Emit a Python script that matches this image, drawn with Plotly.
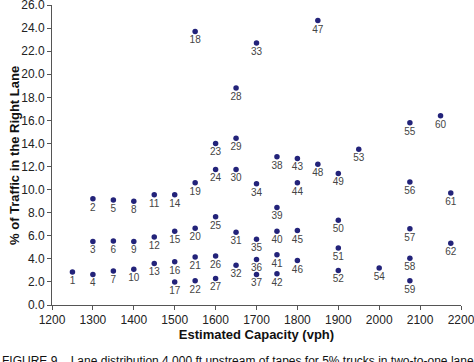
import plotly.graph_objects as go

ids = list(range(1, 63))
capacity = [1250, 1300, 1300, 1300, 1350, 1350, 1350, 1400, 1400, 1400,
            1450, 1450, 1450, 1500, 1500, 1500, 1500, 1550, 1550, 1550,
            1550, 1550, 1600, 1600, 1600, 1600, 1600, 1650, 1650, 1650,
            1650, 1650, 1700, 1700, 1700, 1700, 1700, 1750, 1750, 1750,
            1750, 1750, 1800, 1800, 1800, 1800, 1850, 1850, 1900, 1900,
            1900, 1900, 1950, 2000, 2075, 2075, 2075, 2075, 2075, 2150,
            2175, 2175]
pct_right = [2.85, 9.2, 5.5, 2.65, 9.1, 5.55, 2.95, 9.0, 5.5, 3.1,
             9.55, 5.9, 3.6, 9.55, 6.4, 3.75, 2.0, 23.7, 10.6, 6.65,
             4.15, 2.1, 14.0, 11.75, 7.65, 4.25, 2.3, 18.8, 14.45, 11.75,
             6.3, 3.45, 22.7, 10.5, 5.7, 3.95, 2.65, 12.85, 8.45, 6.4,
             4.35, 2.7, 12.7, 10.6, 6.45, 3.85, 24.65, 12.2, 11.4, 7.35,
             4.95, 3.0, 13.5, 3.2, 15.8, 10.65, 6.6, 4.05, 2.1, 16.4,
             9.7, 5.35]

x_ticks = list(range(1200, 2201, 100))
y_ticks = [0, 2, 4, 6, 8, 10, 12, 14, 16, 18, 20, 22, 24, 26]

fig = go.Figure()
fig.add_trace(go.Scatter(
    x=capacity, y=pct_right, mode="markers+text",
    text=[str(i) for i in ids], textposition="bottom center",
    textfont=dict(family="Liberation Sans, Arial, sans-serif", size=10, color="#444444"),
    marker=dict(size=5.5, color="#23237a"),
    cliponaxis=False, showlegend=False, hoverinfo="skip",
))

axis_common = dict(
    showgrid=False, zeroline=False, showline=True, linecolor="#555555", linewidth=1,
    ticks="outside", ticklen=4, tickcolor="#555555", automargin=False,
    ticklabeloverflow="allow",
    tickfont=dict(family="Liberation Sans, Arial, sans-serif", size=12, color="#222222"),
)

fig.update_layout(
    width=474, height=362,
    margin=dict(l=52, r=13, t=5, b=57),
    paper_bgcolor="white", plot_bgcolor="white",
    font=dict(family="Liberation Sans, Arial, sans-serif"),
    xaxis=dict(range=[1200, 2200], tickvals=x_ticks,
               title=dict(text="<b>Estimated Capacity (vph)</b>", standoff=2,
                          font=dict(size=13, color="#111111")),
               **axis_common),
    yaxis=dict(range=[0, 26], tickvals=y_ticks, tickformat=".1f", **axis_common),
)

fig.add_annotation(
    text="<b>% of Traffic in the Right Lane</b>", textangle=-90,
    xref="paper", yref="paper", x=-0.093, y=0.5, xanchor="center", yanchor="middle",
    showarrow=False, font=dict(size=13, color="#111111"),
)

fig.add_annotation(
    text="FIGURE 9    Lane distribution 4,000 ft upstream of tapes for 5% trucks in two-to-one lane",
    xref="paper", yref="paper", x=-0.128, y=-0.157, xanchor="left", yanchor="top",
    showarrow=False, font=dict(size=12, color="#111111"),
)

fig.write_html("out.html", config={"displayModeBar": False},
               post_script="document.body.style.margin='0';")
